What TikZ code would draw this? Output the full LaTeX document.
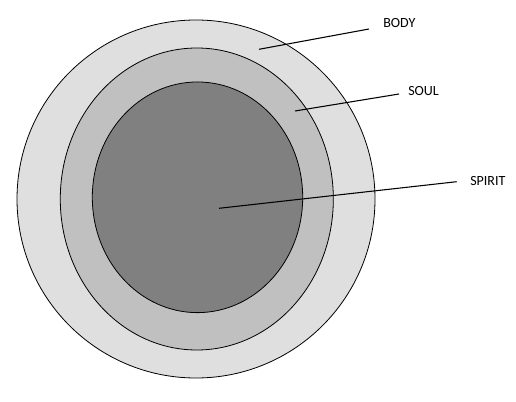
\documentclass[tikz,border=0pt]{standalone}
\usepackage{fontspec}
\setmainfont{Carlito}
\usetikzlibrary{shapes.geometric}
\definecolor{bodyc}{HTML}{DFDFDF}
\definecolor{soulc}{HTML}{C0C0C0}
\definecolor{spiritc}{HTML}{808080}
\begin{document}
\begin{tikzpicture}[x=0.75pt,y=-0.75pt,
  layer/.style={ellipse,draw=black,line width=0.6pt,inner sep=0pt},
  lbl/.style={font=\fontsize{10.5pt}{12pt}\selectfont,inner sep=0pt,anchor=west},
  pointer/.style={draw=black,line width=0.8pt}]
\useasboundingbox (0,0) rectangle (516,402);
\node[layer,fill=bodyc,minimum width=268.5pt,minimum height=268.5pt] (body) at (196,199) {};
\node[layer,fill=soulc,minimum width=204.8pt,minimum height=226.5pt] (soul) at (196.8,199) {};
\node[layer,fill=spiritc,minimum width=157.8pt,minimum height=173pt] (spirit) at (197.5,197.3) {};
\node[lbl] (lbody) at (383,23.3) {BODY};
\node[lbl] (lsoul) at (408,90.7) {SOUL};
\node[lbl] (lspirit) at (470,181) {SPIRIT};
\coordinate (b1) at (259,49.3);
\coordinate (b2) at (369,29);
\coordinate (s1) at (295,111);
\coordinate (s2) at (399,94);
\coordinate (p1) at (219,208.3);
\coordinate (p2) at (456.7,181.7);
\draw[pointer] (b1) -- (b2);
\draw[pointer] (s1) -- (s2);
\draw[pointer] (p1) -- (p2);
\end{tikzpicture}
\end{document}
